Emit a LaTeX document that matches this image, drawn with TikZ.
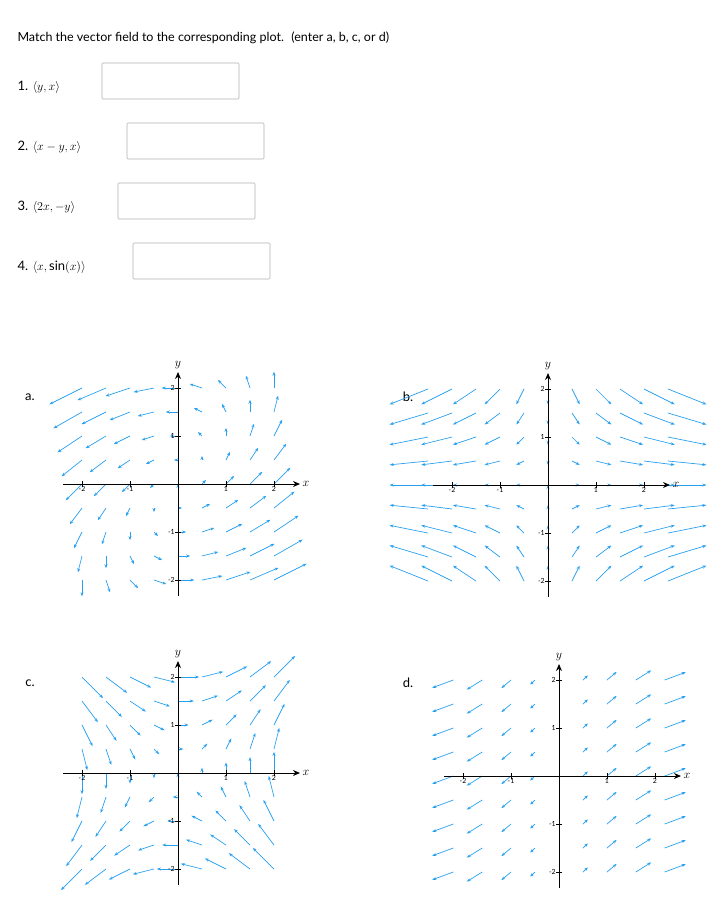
\documentclass[tikz,border=0pt]{standalone}
\usepackage{fontspec}
\setmainfont{Lato}
\usepackage{amsmath}
\usetikzlibrary{arrows.meta}
\definecolor{vb}{RGB}{40,160,240}
\tikzset{ansbox/.style={draw=gray!60,line width=0.6pt,rounded corners=1pt},
 vec/.style={vb,line width=0.7pt,-{Stealth[length=4pt,width=3pt]}},
 axis/.style={black,line width=1pt,-{Stealth[length=7pt,width=6pt]}},
 tlab/.style={font=\fontsize{7}{7}\selectfont\rmfamily,inner sep=1pt},
 qtxt/.style={anchor=west,font=\fontsize{13}{14}\selectfont}}
\newcommand\vfplot[7]{% ox oy fx fy scale xlist ylist
 \foreach \X in {#6}{\foreach \Y in {#7}{%
  \pgfmathsetmacro\u{#3}\pgfmathsetmacro\v{#4}%
  \draw[vec] ({#1+48*\X},{#2-48*\Y}) -- ++({48*#5*\u},{-48*#5*\v});}}%
 \draw[axis] ({#1-115},#2) -- ({#1+122},#2) node[right,font=\fontsize{13}{13}\selectfont\rmfamily,inner sep=2pt]{$x$};
 \draw[axis] (#1,{#2+112}) -- (#1,{#2-112}) node[above,font=\fontsize{13}{13}\selectfont\rmfamily,inner sep=3pt]{$y$};
 \foreach \k in {-2,-1,1,2}{
  \draw[black,line width=0.7pt] ({#1+48*\k},{#2-3}) -- ({#1+48*\k},{#2+3});
  \draw[black,line width=0.7pt] ({#1-3},{#2-48*\k}) -- ({#1+3},{#2-48*\k});
  \node[tlab,below] at ({#1+48*\k},{#2+1}) {\k};
  \node[tlab,left] at ({#1-2},{#2-48*\k}) {\k};}
}
\begin{document}
\begin{tikzpicture}[x=1pt,y=-1pt]
\useasboundingbox[fill=white] (0,0) rectangle (727,914);
\node[anchor=west,font=\fontsize{12.5}{14}\selectfont] (title) at (14,38) {Match the vector field to the corresponding plot. \ (enter a, b, c, or d)};
\node[qtxt] (q1) at (14,87) {1. $\langle y,x\rangle$};
\node[qtxt] (q2) at (14,147) {2. $\langle x-y,x\rangle$};
\node[qtxt] (q3) at (14,207) {3. $\langle 2x,-y\rangle$};
\node[qtxt] (q4) at (14,267) {4. $\langle x,\sin(x)\rangle$};
\draw[ansbox] (102,63) rectangle (239,99);
\draw[ansbox] (127,123) rectangle (264,159);
\draw[ansbox] (118,183) rectangle (255,219);
\draw[ansbox] (133,243) rectangle (270,279);
\node[font=\fontsize{13}{14}\selectfont] (la) at (30,397) {a.};
\node[font=\fontsize{13}{14}\selectfont] (lb) at (408,397) {b.};
\node[font=\fontsize{13}{14}\selectfont] (lc) at (30,683) {c.};
\node[font=\fontsize{13}{14}\selectfont] (ld) at (408,683) {d.};
\vfplot{178}{484}{\X-\Y}{\X}{0.17}{-2,-1.5,...,2}{-2,-1.5,...,2}
\vfplot{548}{485}{2*\X}{-\Y}{0.16}{-2.5,-2,...,2.5}{-2,-1.5,...,2}
\vfplot{178}{773}{\Y}{\X}{0.22}{-2,-1.5,...,2}{-2,-1.5,...,2}
\vfplot{559}{776}{\X}{sin(\X r)}{0.2}{-2.2,-1.6,-1,-0.5,0.5,1,1.6,2.2}{-2,-1.5,...,2}
\end{tikzpicture}
\end{document}
